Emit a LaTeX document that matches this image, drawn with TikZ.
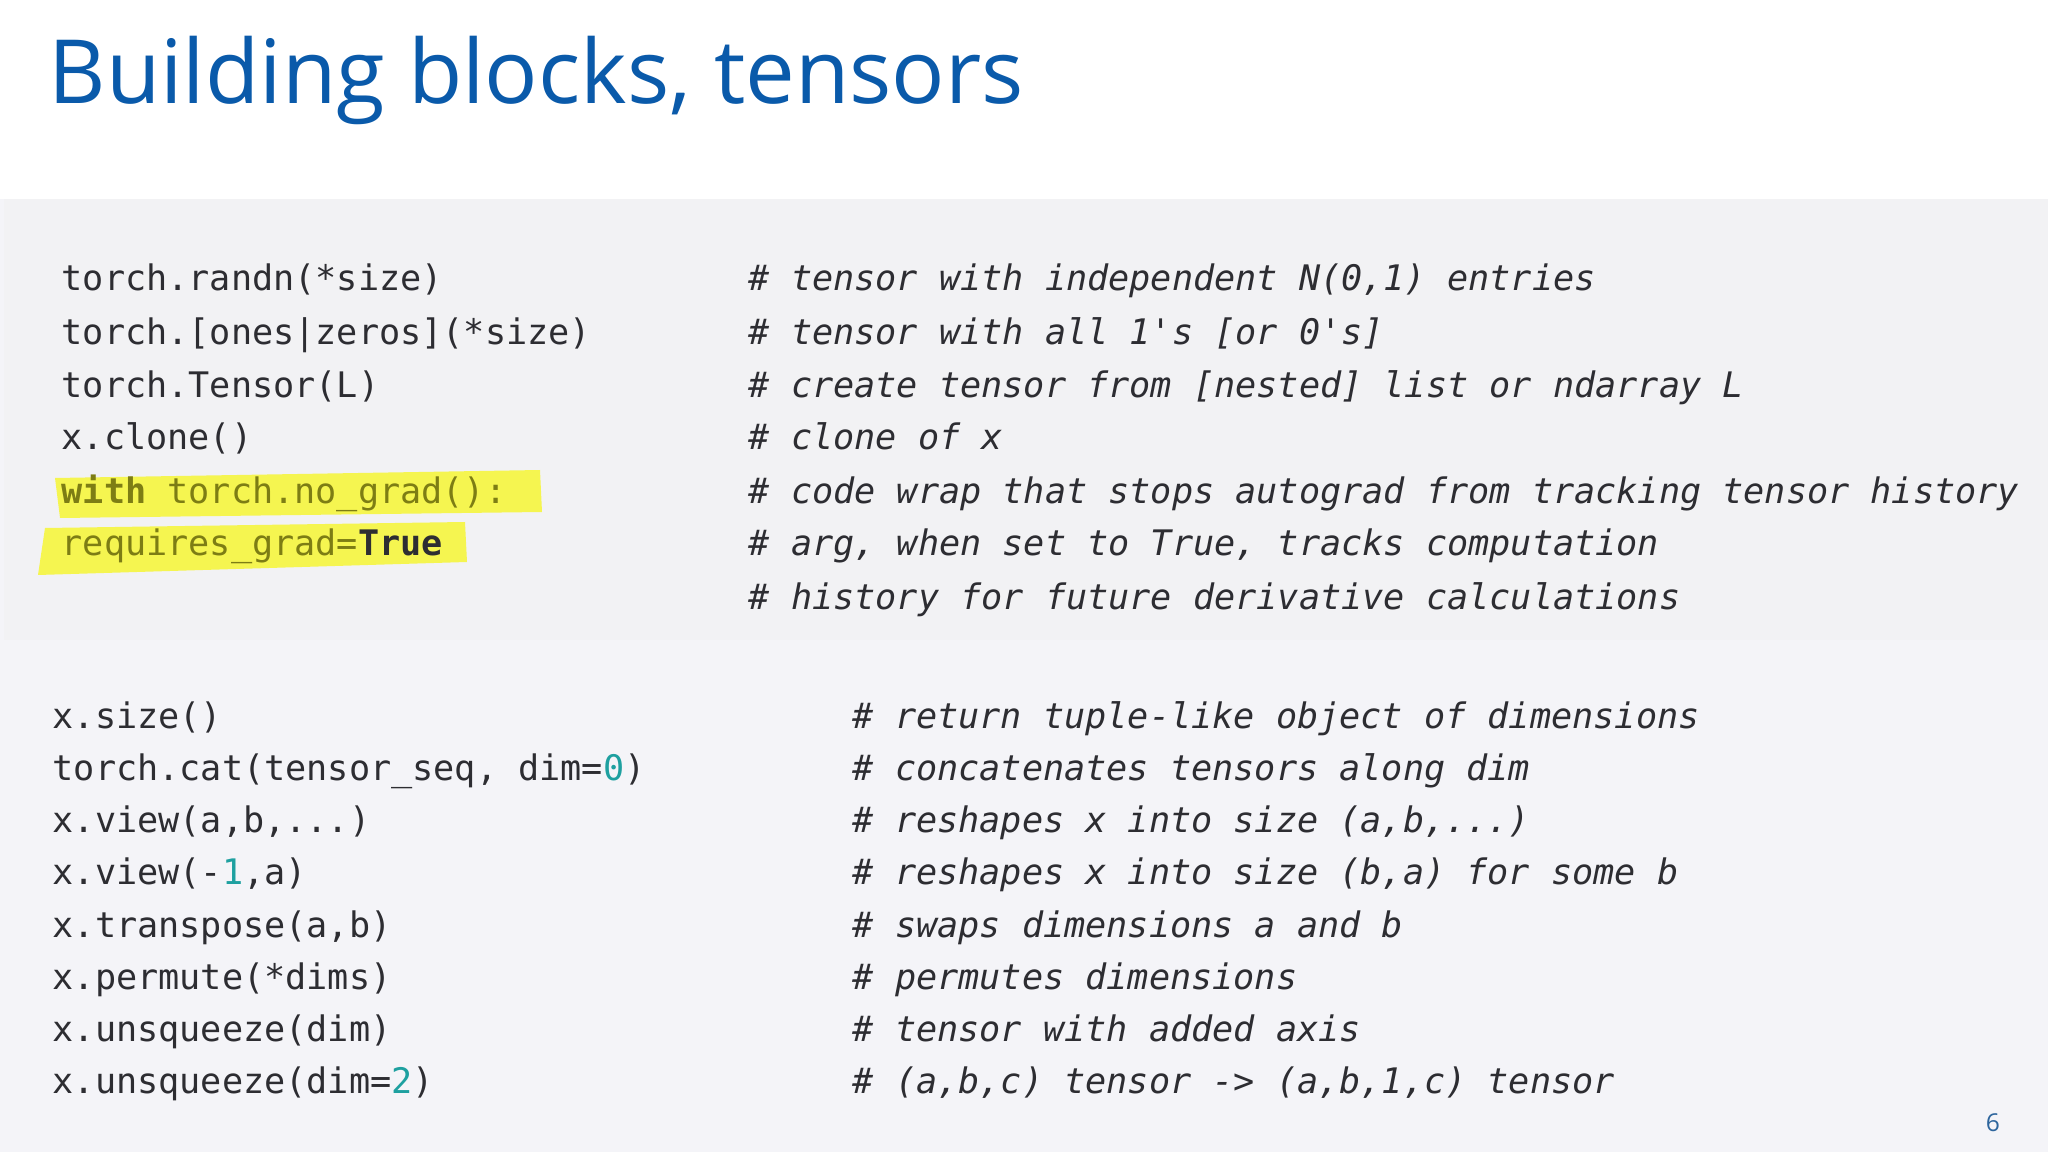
\documentclass[tikz,border=0pt]{standalone}
\usepackage{fontspec}
\setmainfont{Open Sans}
\newfontfamily\codefont{DejaVu Sans Mono}
\definecolor{ttl}{RGB}{10,90,170}
\definecolor{codec}{RGB}{45,45,50}
\definecolor{numc}{RGB}{30,160,160}
\definecolor{hl}{RGB}{245,245,80}
\definecolor{hltext}{RGB}{125,125,20}
\definecolor{bgA}{RGB}{242,242,244}
\definecolor{bgB}{RGB}{244,244,248}
\begin{document}
\begin{tikzpicture}[x=0.01cm,y=-0.01cm,
  code/.style={anchor=west,inner sep=0pt,text height=7.5pt,text depth=2.5pt,font=\codefont\fontsize{10}{12}\selectfont,text=codec},
  cmt/.style={code,font=\codefont\itshape\fontsize{10}{12}\selectfont}]
\useasboundingbox (0,0) rectangle (2048,1152);
\fill[white] (0,0) rectangle (2048,1152);
\fill[bgB] (0,199) rectangle (2048,1152);
\fill[bgA] (4,199) rectangle (2048,640);
\node[anchor=west,inner sep=0pt,text=ttl,font=\fontsize{25.2}{30}\selectfont] (title) at (48,80) {Building blocks, tensors};
% highlights
\fill[hl] (55,478) -- (540,470) -- (542,512) -- (60,518) -- cycle;
\fill[hl] (45,528) -- (465,522) -- (467,562) -- (38,575) -- cycle;
% top block
\node[code] (c1) at (61,282) {torch.randn(*size)};
\node[code] (c2) at (61,336) {torch.[ones|zeros](*size)};
\node[code] (c3) at (61,389) {torch.Tensor(L)};
\node[code] (c4) at (61,441) {x.clone()};
\node[code,text=hltext] (c5) at (61,495) {\textbf{with} torch.no\_grad():};
\node[code,text=hltext] (c6) at (61,547) {requires\_grad=\textbf{\color{codec}True}};
\node[cmt] (m1) at (748,282) {\# tensor with independent N(0,1) entries};
\node[cmt] (m2) at (748,336) {\# tensor with all 1's [or 0's]};
\node[cmt] (m3) at (748,389) {\# create tensor from [nested] list or ndarray L};
\node[cmt] (m4) at (748,441) {\# clone of x};
\node[cmt] (m5) at (748,495) {\# code wrap that stops autograd from tracking tensor history};
\node[cmt] (m6) at (748,547) {\# arg, when set to True, tracks computation};
\node[cmt] (m7) at (748,601) {\# history for future derivative calculations};
% bottom block
\node[code] (d1) at (52,720) {x.size()};
\node[code] (d2) at (52,772) {torch.cat(tensor\_seq, dim=\textcolor{numc}{0})};
\node[code] (d3) at (52,824) {x.view(a,b,...)};
\node[code] (d4) at (52,876) {x.view(-\textcolor{numc}{1},a)};
\node[code] (d5) at (52,929) {x.transpose(a,b)};
\node[code] (d6) at (52,981) {x.permute(*dims)};
\node[code] (d7) at (52,1033) {x.unsqueeze(dim)};
\node[code] (d8) at (52,1085) {x.unsqueeze(dim=\textcolor{numc}{2})};
\node[cmt] (n1) at (852,720) {\# return tuple-like object of dimensions};
\node[cmt] (n2) at (852,772) {\# concatenates tensors along dim};
\node[cmt] (n3) at (852,824) {\# reshapes x into size (a,b,...)};
\node[cmt] (n4) at (852,876) {\# reshapes x into size (b,a) for some b};
\node[cmt] (n5) at (852,929) {\# swaps dimensions a and b};
\node[cmt] (n6) at (852,981) {\# permutes dimensions};
\node[cmt] (n7) at (852,1033) {\# tensor with added axis};
\node[cmt] (n8) at (852,1085) {\# (a,b,c) tensor -> (a,b,1,c) tensor};
\node[inner sep=0pt,text=ttl!70!gray,font=\fontsize{7}{8}\selectfont] (pg) at (1993,1123) {6};
\end{tikzpicture}
\end{document}
